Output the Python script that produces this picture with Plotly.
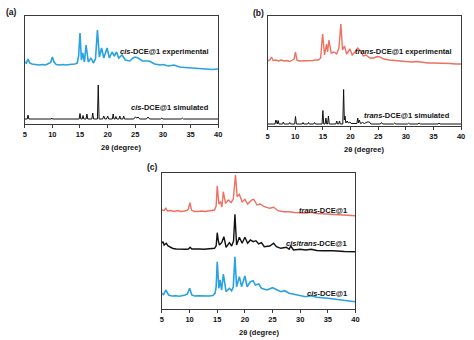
import plotly.graph_objects as go

# ---------------- data (2θ in degrees, intensity in arbitrary units, traces stacked) ----------------
ticks_2theta = [5, 10, 15, 20, 25, 30, 35, 40]

# (a) cis-DCE@1 experimental
a_exp_x = [5.0, 5.3, 5.6, 5.9, 6.3, 7.0, 7.6, 8.2, 8.8, 9.3, 9.7, 10.0, 10.3, 10.7, 11.3, 11.9, 12.5, 13.1,
           13.6, 14.1, 14.5, 14.75, 15.0, 15.25, 15.5, 15.8, 16.1, 16.5, 17.0, 17.4, 17.8, 18.15, 18.5, 18.9,
           19.3, 19.9, 20.3, 20.8, 21.2, 21.6, 22.0, 22.6, 23.2, 24.0, 24.6, 25.0, 25.5, 26.3, 27.0, 27.5,
           28.5, 29.5, 30.0, 31.0, 32.0, 33.0, 34.0, 35.0, 36.0, 37.0, 38.0, 39.0, 40.0]
a_exp_y = [62, 61, 65, 61, 60, 59.5, 59, 59.5, 59, 60.5, 61.5, 67, 62, 59.5, 59, 59.5, 59, 59.5,
           59.5, 60, 61, 68, 91, 64, 71, 62, 79, 62, 66, 61, 65, 94, 67, 76,
           66, 76, 66, 72, 68, 72, 66, 69, 64, 63, 66, 67, 66, 63, 63, 63,
           60, 59, 59.5, 58, 59, 57, 56.5, 56, 55.5, 55, 54.5, 54.5, 55]

# (a) cis-DCE@1 simulated
a_sim_x = [5.0, 5.45, 5.6, 5.75, 9.8, 9.9, 10.0, 14.85, 15.0, 15.15, 15.4, 15.55, 15.7, 16.1, 16.25, 16.4,
           17.15, 17.3, 17.45, 18.15, 18.3, 18.45, 19.1, 19.3, 19.5, 19.8, 20.0, 20.2, 20.85, 21.0, 21.15,
           21.35, 21.5, 21.65, 22.05, 22.2, 22.35, 22.75, 22.9, 23.05, 24.7, 25.0, 25.3, 25.5, 25.8, 27.0,
           27.3, 27.6, 29.6, 29.8, 30.0, 33.3, 33.5, 33.7, 40.0]
a_sim_y = [5, 5, 9, 5, 5, 6, 5, 5, 10.5, 5, 5, 8.5, 5, 5, 10, 5,
           5, 11, 5, 5, 39, 5, 5, 8, 5, 5, 8, 5, 5, 10, 5,
           5, 7.5, 5, 5, 8, 5, 5, 8, 5, 5, 7, 6, 7, 5, 5,
           7, 5, 5, 6, 5, 5, 6, 5, 5]

# (b) trans-DCE@1 experimental
b_exp_x = [5.0, 5.4, 5.7, 6.0, 6.5, 7.0, 7.5, 8.0, 8.5, 9.0, 9.5, 9.8, 10.05, 10.3, 10.7, 11.3, 12.0, 12.6,
           13.2, 13.7, 14.2, 14.6, 14.95, 15.3, 15.65, 15.85, 16.1, 16.5, 17.0, 17.5, 17.9, 18.25, 18.55,
           18.9, 19.3, 19.9, 20.3, 20.8, 21.3, 21.8, 22.3, 22.8, 23.5, 24.2, 24.8, 25.3, 26.0, 27.0, 28.0,
           29.0, 30.0, 31.0, 32.0, 33.0, 34.0, 35.0, 36.0, 37.0, 38.0, 39.0, 40.0]
b_exp_y = [65, 66, 69, 65.5, 66, 65, 66, 65, 65.5, 64.5, 66, 67, 74, 66, 65, 65, 65.5, 65,
           65.5, 66, 66, 68, 92, 71, 82, 74, 86, 73, 74, 72, 78, 102, 76,
           80, 72, 77, 71, 74, 78, 75, 70, 71, 68, 68, 69.5, 69, 67, 66, 65.5,
           64.5, 64, 64, 64.5, 63.5, 63, 63, 63, 62.5, 62.5, 62, 62]

# (b) trans-DCE@1 simulated
b_sim_x = [5.0, 6.35, 6.5, 6.65, 6.75, 6.9, 7.05, 7.7, 7.85, 8.0, 8.85, 9.0, 9.15, 9.9, 10.05, 10.2,
           11.25, 11.4, 11.55, 12.25, 12.4, 12.55, 13.35, 13.5, 13.65, 14.85, 15.0, 15.15, 15.4, 15.55,
           15.7, 15.85, 16.0, 16.15, 17.35, 17.5, 17.65, 17.85, 18.0, 18.15, 18.6, 18.75, 18.88, 19.0,
           19.15, 19.4, 19.6, 19.9, 20.1, 21.15, 21.3, 21.45, 21.6, 21.8, 22.2, 22.5, 23.0, 23.4, 23.7,
           25.4, 25.6, 25.8, 27.8, 28.0, 28.2, 30.3, 30.5, 30.7, 32.2, 32.4, 32.6, 35.8, 36.0, 36.2, 40.0]
b_sim_y = [2, 2, 6, 2, 2, 5.5, 2, 2, 4, 2, 2, 3.5, 2, 2, 9.5, 2,
           2, 3.5, 2, 2, 3.5, 2, 2, 3.5, 2, 2, 15.5, 2, 2, 8,
           2, 2, 10, 2, 2, 5, 2, 2, 5, 2, 2, 36.5, 6, 10,
           3, 5, 3, 4, 2.5, 2.5, 8, 3, 6, 2.5, 3.5, 2.5, 4, 4, 2,
           2, 3.5, 2, 2, 3, 2, 2, 2.8, 2, 2, 3, 2, 2, 2.8, 2, 2]

# (c) trans-DCE@1
c_trans_x = [5.0, 5.4, 5.7, 6.0, 6.6, 7.2, 7.8, 8.4, 9.0, 9.5, 9.8, 10.05, 10.35, 10.8, 11.5, 12.2, 12.8,
             13.4, 14.0, 14.5, 14.8, 15.0, 15.3, 15.6, 15.85, 16.1, 16.5, 17.0, 17.5, 17.9, 18.3, 18.6,
             19.0, 19.5, 20.0, 20.5, 21.2, 21.6, 22.2, 22.8, 23.5, 24.5, 25.2, 26.0, 27.0, 28.0, 29.0,
             30.0, 31.0, 32.0, 33.0, 34.0, 35.0, 36.5, 38.0, 39.0, 40.0]
c_trans_y = [99, 98.5, 100.7, 98, 98.5, 97.5, 98.5, 97.5, 98, 98.5, 100, 106.3, 99, 97.5, 97.5, 98, 97.5,
             98, 98, 99, 103, 123.3, 105, 107.3, 102, 117.3, 105.7, 109, 106.3, 110, 134, 112.3,
             114.7, 107, 109.7, 105, 109, 109.7, 104, 105, 102.3, 100.7, 101.7, 98.3, 97.3, 97.3, 96.5,
             96.3, 96, 96.7, 95.5, 95.3, 95, 94.5, 94, 93.5, 93.3]

# (c) cis/trans-DCE@1
c_mix_x = [5.0, 5.2, 5.4, 5.8, 6.1, 6.5, 7.0, 7.6, 8.2, 8.8, 9.4, 9.8, 10.1, 10.4, 11.0, 11.8, 12.6, 13.4,
           14.0, 14.5, 14.8, 15.0, 15.2, 15.4, 15.8, 16.2, 16.6, 17.2, 17.6, 17.95, 18.2, 18.5, 19.0, 19.5,
           20.0, 20.5, 21.0, 21.5, 22.0, 22.5, 23.0, 23.5, 24.5, 25.2, 25.7, 26.5, 27.5, 28.0, 28.3, 28.8,
           30.0, 31.0, 32.0, 33.0, 34.0, 36.0, 38.0, 40.0]
c_mix_y = [66, 67.3, 64, 65.7, 63, 61.7, 60.5, 60, 59.7, 60, 59.7, 60, 61.7, 60, 59.7, 60, 59.7, 60,
           60, 60.7, 63, 76.3, 68, 64, 66.3, 72.3, 61.7, 66.3, 63, 68, 94.7, 64, 71.7, 65.7,
           71.7, 65.7, 69, 67.3, 68.3, 65, 66.3, 62.3, 63, 65.7, 62.3, 60.7, 61.7, 59.7, 63, 59,
           59.7, 59, 59.7, 58.5, 58.3, 58.3, 57.5, 57.3]

# (c) cis-DCE@1
c_cis_x = [5.0, 5.3, 5.7, 6.2, 6.8, 7.5, 8.2, 8.8, 9.2, 9.6, 10.0, 10.4, 10.9, 11.5, 12.2, 12.9, 13.6, 14.2,
           14.6, 14.8, 15.0, 15.3, 15.5, 15.8, 16.1, 16.6, 17.2, 17.6, 17.9, 18.2, 18.5, 19.0, 19.4, 20.0,
           20.4, 21.0, 21.5, 21.9, 22.5, 23.0, 24.0, 25.0, 25.5, 26.5, 27.2, 28.0, 29.5, 31.0, 32.0, 33.0,
           35.0, 37.0, 38.5, 40.0]
c_cis_y = [15.7, 14.5, 19, 14, 13, 13.3, 12.7, 13.3, 14, 15, 20.7, 14, 13, 13.3, 13, 13.3, 13, 13.5,
           15.7, 22, 47.3, 20.7, 29, 19, 35, 17.3, 20.7, 18.3, 22, 52.3, 22.3, 32.3, 22.3, 33,
           22.3, 27.3, 28.3, 24, 25, 20.7, 19, 21.3, 19.7, 17.3, 18.3, 15.7, 14, 12.3, 13.3, 11.7,
           10.7, 9, 8.3, 7.3]

# ---------------- styling ----------------
W, H = 474, 340
BLUE = "#28a2e2"
RED = "#ef6f60"
BLACK = "#111111"
FONT = "Liberation Sans, Arial, sans-serif"
AX = "#3a3a3a"


def px_x(p):
    return p / W


def px_y(p):
    return 1 - p / H


fig = go.Figure()

panels = [
    # (axis suffix, x px range, y px range (top, bottom), y max)
    ("", (23, 219), (16, 124), 108),
    ("2", (269, 465), (16, 126), 110),
    ("3", (162, 358), (173, 309), 136),
]

traces = [
    ("", a_exp_x, a_exp_y, BLUE, 1.6),
    ("", a_sim_x, a_sim_y, BLACK, 1.0),
    ("2", b_exp_x, b_exp_y, RED, 1.4),
    ("2", b_sim_x, b_sim_y, BLACK, 1.0),
    ("3", c_trans_x, c_trans_y, RED, 1.4),
    ("3", c_mix_x, c_mix_y, BLACK, 1.4),
    ("3", c_cis_x, c_cis_y, BLUE, 1.6),
]
for suf, xs, ys, col, w in traces:
    fig.add_trace(go.Scatter(x=xs, y=ys, mode="lines", line=dict(color=col, width=w),
                             xaxis="x" + suf, yaxis="y" + suf, showlegend=False, hoverinfo="skip"))

layout = dict(width=W, height=H, margin=dict(l=0, r=0, t=0, b=0),
              paper_bgcolor="white", plot_bgcolor="white", showlegend=False)
annotations = []
for suf, (x0, x1), (yt, yb), ymax in panels:
    layout["xaxis" + suf] = dict(
        domain=[px_x(x0), px_x(x1)], range=[5, 40], tickvals=ticks_2theta,
        ticktext=["<b>%d</b>" % t for t in ticks_2theta],
        ticks="outside", ticklen=3, tickwidth=1, tickcolor=AX,
        showline=True, linecolor=AX, linewidth=1, mirror=True, showgrid=False, zeroline=False,
        tickfont=dict(family=FONT, size=7.5, color="#111"), anchor="y" + suf)
    layout["yaxis" + suf] = dict(
        domain=[px_y(yb), px_y(yt)], range=[0, ymax], showticklabels=False, ticks="",
        showline=True, linecolor=AX, linewidth=1, mirror=True, showgrid=False, zeroline=False,
        anchor="x" + suf)
    annotations.append(dict(text="<b>2θ (degree)</b>", xref="paper", yref="paper",
                            x=px_x((x0 + x1) / 2), y=px_y(yb + 23), xanchor="center", yanchor="middle",
                            showarrow=False, font=dict(family=FONT, size=7.5, color="#111")))

labels = [
    # (axis suffix, text, x(2θ), y)
    ("", "<b><i>cis</i>-DCE@1 experimental</b>", 38.75, 73),
    ("", "<b><i>cis</i>-DCE@1 simulated</b>", 38.75, 17),
    ("2", "<b><i>trans</i>-DCE@1 experimental</b>", 38.75, 75),
    ("2", "<b><i>trans</i>-DCE@1 simulated</b>", 38.4, 11),
    ("3", "<b><i>trans</i>-DCE@1</b>", 38.9, 99),
    ("3", "<b><i>cis</i>/<i>trans</i>-DCE@1</b>", 38.9, 66),
    ("3", "<b><i>cis</i>-DCE@1</b>", 38.9, 16),
]
for suf, t, x, y in labels:
    annotations.append(dict(text=t, xref="x" + suf, yref="y" + suf, x=x, y=y, xanchor="right",
                            yanchor="middle", showarrow=False,
                            font=dict(family=FONT, size=7.5, color="#111")))

panel_letters = [("(a)", 10, 12), ("(b)", 260, 13), ("(c)", 152, 167)]
for t, x, y in panel_letters:
    annotations.append(dict(text="<b>%s</b>" % t, xref="paper", yref="paper", x=px_x(x), y=px_y(y),
                            xanchor="center", yanchor="middle", showarrow=False,
                            font=dict(family=FONT, size=8.5, color="#111")))

layout["annotations"] = annotations
fig.update_layout(**layout)
fig.write_html("out.html")
